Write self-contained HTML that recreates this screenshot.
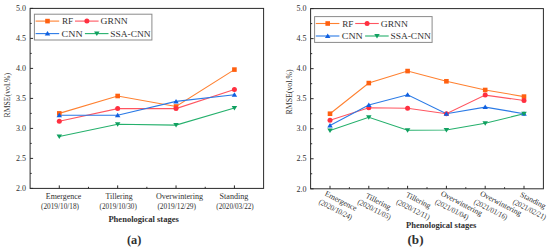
<!DOCTYPE html>
<html><head><meta charset="utf-8"><style>
html,body{margin:0;padding:0;background:#fff;}
body{width:550px;height:251px;overflow:hidden;}
svg{display:block;font-family:"Liberation Serif", serif;}
text{fill:#303030;}
</style></head><body>
<svg width="550" height="251" viewBox="0 0 550 251">
<rect width="550" height="251" fill="#fff"/>
<polyline points="59.29,113.40 117.66,96.00 176.04,106.50 234.41,69.60" fill="none" stroke="#ff8030" stroke-width="1.1"/>
<polyline points="59.29,121.20 117.66,108.60 176.04,108.60 234.41,89.40" fill="none" stroke="#ff5560" stroke-width="1.1"/>
<polyline points="59.29,115.20 117.66,115.20 176.04,101.40 234.41,94.80" fill="none" stroke="#2a7ae6" stroke-width="1.1"/>
<polyline points="59.29,136.50 117.66,124.32 176.04,125.10 234.41,108.00" fill="none" stroke="#25b06c" stroke-width="1.1"/>
<rect x="56.99" y="111.10" width="4.6" height="4.6" fill="#ff6010"/>
<rect x="115.36" y="93.70" width="4.6" height="4.6" fill="#ff6010"/>
<rect x="173.74" y="104.20" width="4.6" height="4.6" fill="#ff6010"/>
<rect x="232.11" y="67.30" width="4.6" height="4.6" fill="#ff6010"/>
<circle cx="59.29" cy="121.20" r="2.5" fill="#ff3040"/>
<circle cx="117.66" cy="108.60" r="2.5" fill="#ff3040"/>
<circle cx="176.04" cy="108.60" r="2.5" fill="#ff3040"/>
<circle cx="234.41" cy="89.40" r="2.5" fill="#ff3040"/>
<path d="M59.29 112.70 L62.04 117.20 L56.54 117.20 Z" fill="#1060e0"/>
<path d="M117.66 112.70 L120.41 117.20 L114.91 117.20 Z" fill="#1060e0"/>
<path d="M176.04 98.90 L178.79 103.40 L173.29 103.40 Z" fill="#1060e0"/>
<path d="M234.41 92.30 L237.16 96.80 L231.66 96.80 Z" fill="#1060e0"/>
<path d="M56.54 134.50 L62.04 134.50 L59.29 139.00 Z" fill="#10a060"/>
<path d="M114.91 122.32 L120.41 122.32 L117.66 126.82 Z" fill="#10a060"/>
<path d="M173.29 123.10 L178.79 123.10 L176.04 127.60 Z" fill="#10a060"/>
<path d="M231.66 106.00 L237.16 106.00 L234.41 110.50 Z" fill="#10a060"/>
<rect x="30.10" y="8.40" width="233.50" height="180.00" fill="none" stroke="#2a2a2a" stroke-width="1"/>
<line x1="30.10" y1="188.40" x2="33.10" y2="188.40" stroke="#2a2a2a" stroke-width="1"/>
<text x="26.10" y="191.10" font-size="8" text-anchor="end">2.0</text>
<line x1="30.10" y1="173.40" x2="31.70" y2="173.40" stroke="#2a2a2a" stroke-width="1"/>
<line x1="30.10" y1="158.40" x2="33.10" y2="158.40" stroke="#2a2a2a" stroke-width="1"/>
<text x="26.10" y="161.10" font-size="8" text-anchor="end">2.5</text>
<line x1="30.10" y1="143.40" x2="31.70" y2="143.40" stroke="#2a2a2a" stroke-width="1"/>
<line x1="30.10" y1="128.40" x2="33.10" y2="128.40" stroke="#2a2a2a" stroke-width="1"/>
<text x="26.10" y="131.10" font-size="8" text-anchor="end">3.0</text>
<line x1="30.10" y1="113.40" x2="31.70" y2="113.40" stroke="#2a2a2a" stroke-width="1"/>
<line x1="30.10" y1="98.40" x2="33.10" y2="98.40" stroke="#2a2a2a" stroke-width="1"/>
<text x="26.10" y="101.10" font-size="8" text-anchor="end">3.5</text>
<line x1="30.10" y1="83.40" x2="31.70" y2="83.40" stroke="#2a2a2a" stroke-width="1"/>
<line x1="30.10" y1="68.40" x2="33.10" y2="68.40" stroke="#2a2a2a" stroke-width="1"/>
<text x="26.10" y="71.10" font-size="8" text-anchor="end">4.0</text>
<line x1="30.10" y1="53.40" x2="31.70" y2="53.40" stroke="#2a2a2a" stroke-width="1"/>
<line x1="30.10" y1="38.40" x2="33.10" y2="38.40" stroke="#2a2a2a" stroke-width="1"/>
<text x="26.10" y="41.10" font-size="8" text-anchor="end">4.5</text>
<line x1="30.10" y1="23.40" x2="31.70" y2="23.40" stroke="#2a2a2a" stroke-width="1"/>
<line x1="30.10" y1="8.40" x2="33.10" y2="8.40" stroke="#2a2a2a" stroke-width="1"/>
<text x="26.10" y="11.10" font-size="8" text-anchor="end">5.0</text>
<line x1="59.29" y1="188.40" x2="59.29" y2="185.40" stroke="#2a2a2a" stroke-width="1"/>
<line x1="88.48" y1="188.40" x2="88.48" y2="186.80" stroke="#2a2a2a" stroke-width="1"/>
<line x1="117.66" y1="188.40" x2="117.66" y2="185.40" stroke="#2a2a2a" stroke-width="1"/>
<line x1="146.85" y1="188.40" x2="146.85" y2="186.80" stroke="#2a2a2a" stroke-width="1"/>
<line x1="176.04" y1="188.40" x2="176.04" y2="185.40" stroke="#2a2a2a" stroke-width="1"/>
<line x1="205.23" y1="188.40" x2="205.23" y2="186.80" stroke="#2a2a2a" stroke-width="1"/>
<line x1="234.41" y1="188.40" x2="234.41" y2="185.40" stroke="#2a2a2a" stroke-width="1"/>
<rect x="34.40" y="14.20" width="117.50" height="25.80" fill="#fff" stroke="#8a8a8a" stroke-width="1"/>
<line x1="35.60" y1="21.10" x2="59.20" y2="21.10" stroke="#ff8030" stroke-width="1.1"/>
<rect x="45.20" y="18.80" width="4.6" height="4.6" fill="#ff6010"/>
<line x1="75.00" y1="21.10" x2="98.60" y2="21.10" stroke="#ff5560" stroke-width="1.1"/>
<circle cx="86.90" cy="21.10" r="2.5" fill="#ff3040"/>
<line x1="35.60" y1="33.60" x2="59.20" y2="33.60" stroke="#2a7ae6" stroke-width="1.1"/>
<path d="M47.50 31.10 L50.25 35.60 L44.75 35.60 Z" fill="#1060e0"/>
<line x1="84.90" y1="33.60" x2="108.50" y2="33.60" stroke="#25b06c" stroke-width="1.1"/>
<path d="M94.05 31.60 L99.55 31.60 L96.80 36.10 Z" fill="#10a060"/>
<text x="62.00" y="24.20" font-size="9.0" text-anchor="start" textLength="11.20" lengthAdjust="spacingAndGlyphs">RF</text>
<text x="100.60" y="24.20" font-size="9.0" text-anchor="start" textLength="27.20" lengthAdjust="spacingAndGlyphs">GRNN</text>
<text x="61.60" y="36.60" font-size="9.0" text-anchor="start" textLength="21.00" lengthAdjust="spacingAndGlyphs">CNN</text>
<text x="110.20" y="36.60" font-size="9.0" text-anchor="start" textLength="40.40" lengthAdjust="spacingAndGlyphs">SSA-CNN</text>
<polyline points="330.00,113.72 368.80,83.08 407.60,71.07 446.40,81.28 485.20,89.99 524.00,96.60" fill="none" stroke="#ff8030" stroke-width="1.1"/>
<polyline points="330.00,120.32 368.80,107.71 407.60,108.31 446.40,113.72 485.20,95.10 524.00,100.50" fill="none" stroke="#ff5560" stroke-width="1.1"/>
<polyline points="330.00,125.43 368.80,105.01 407.60,94.80 446.40,113.72 485.20,107.11 524.00,113.72" fill="none" stroke="#2a7ae6" stroke-width="1.1"/>
<polyline points="330.00,130.54 368.80,117.32 407.60,130.24 446.40,129.93 485.20,123.33 524.00,113.72" fill="none" stroke="#25b06c" stroke-width="1.1"/>
<rect x="327.70" y="111.42" width="4.6" height="4.6" fill="#ff6010"/>
<rect x="366.50" y="80.78" width="4.6" height="4.6" fill="#ff6010"/>
<rect x="405.30" y="68.77" width="4.6" height="4.6" fill="#ff6010"/>
<rect x="444.10" y="78.98" width="4.6" height="4.6" fill="#ff6010"/>
<rect x="482.90" y="87.69" width="4.6" height="4.6" fill="#ff6010"/>
<rect x="521.70" y="94.30" width="4.6" height="4.6" fill="#ff6010"/>
<circle cx="330.00" cy="120.32" r="2.5" fill="#ff3040"/>
<circle cx="368.80" cy="107.71" r="2.5" fill="#ff3040"/>
<circle cx="407.60" cy="108.31" r="2.5" fill="#ff3040"/>
<circle cx="446.40" cy="113.72" r="2.5" fill="#ff3040"/>
<circle cx="485.20" cy="95.10" r="2.5" fill="#ff3040"/>
<circle cx="524.00" cy="100.50" r="2.5" fill="#ff3040"/>
<path d="M330.00 122.93 L332.75 127.43 L327.25 127.43 Z" fill="#1060e0"/>
<path d="M368.80 102.51 L371.55 107.01 L366.05 107.01 Z" fill="#1060e0"/>
<path d="M407.60 92.30 L410.35 96.80 L404.85 96.80 Z" fill="#1060e0"/>
<path d="M446.40 111.22 L449.15 115.72 L443.65 115.72 Z" fill="#1060e0"/>
<path d="M485.20 104.61 L487.95 109.11 L482.45 109.11 Z" fill="#1060e0"/>
<path d="M524.00 111.22 L526.75 115.72 L521.25 115.72 Z" fill="#1060e0"/>
<path d="M327.25 128.54 L332.75 128.54 L330.00 133.04 Z" fill="#10a060"/>
<path d="M366.05 115.32 L371.55 115.32 L368.80 119.82 Z" fill="#10a060"/>
<path d="M404.85 128.24 L410.35 128.24 L407.60 132.74 Z" fill="#10a060"/>
<path d="M443.65 127.93 L449.15 127.93 L446.40 132.43 Z" fill="#10a060"/>
<path d="M482.45 121.33 L487.95 121.33 L485.20 125.83 Z" fill="#10a060"/>
<path d="M521.25 111.72 L526.75 111.72 L524.00 116.22 Z" fill="#10a060"/>
<rect x="310.60" y="8.60" width="232.80" height="180.20" fill="none" stroke="#2a2a2a" stroke-width="1"/>
<line x1="310.60" y1="188.80" x2="313.60" y2="188.80" stroke="#2a2a2a" stroke-width="1"/>
<text x="306.60" y="191.50" font-size="8" text-anchor="end">2.0</text>
<line x1="310.60" y1="173.78" x2="312.20" y2="173.78" stroke="#2a2a2a" stroke-width="1"/>
<line x1="310.60" y1="158.77" x2="313.60" y2="158.77" stroke="#2a2a2a" stroke-width="1"/>
<text x="306.60" y="161.47" font-size="8" text-anchor="end">2.5</text>
<line x1="310.60" y1="143.75" x2="312.20" y2="143.75" stroke="#2a2a2a" stroke-width="1"/>
<line x1="310.60" y1="128.73" x2="313.60" y2="128.73" stroke="#2a2a2a" stroke-width="1"/>
<text x="306.60" y="131.43" font-size="8" text-anchor="end">3.0</text>
<line x1="310.60" y1="113.72" x2="312.20" y2="113.72" stroke="#2a2a2a" stroke-width="1"/>
<line x1="310.60" y1="98.70" x2="313.60" y2="98.70" stroke="#2a2a2a" stroke-width="1"/>
<text x="306.60" y="101.40" font-size="8" text-anchor="end">3.5</text>
<line x1="310.60" y1="83.68" x2="312.20" y2="83.68" stroke="#2a2a2a" stroke-width="1"/>
<line x1="310.60" y1="68.67" x2="313.60" y2="68.67" stroke="#2a2a2a" stroke-width="1"/>
<text x="306.60" y="71.37" font-size="8" text-anchor="end">4.0</text>
<line x1="310.60" y1="53.65" x2="312.20" y2="53.65" stroke="#2a2a2a" stroke-width="1"/>
<line x1="310.60" y1="38.63" x2="313.60" y2="38.63" stroke="#2a2a2a" stroke-width="1"/>
<text x="306.60" y="41.33" font-size="8" text-anchor="end">4.5</text>
<line x1="310.60" y1="23.62" x2="312.20" y2="23.62" stroke="#2a2a2a" stroke-width="1"/>
<line x1="310.60" y1="8.60" x2="313.60" y2="8.60" stroke="#2a2a2a" stroke-width="1"/>
<text x="306.60" y="11.30" font-size="8" text-anchor="end">5.0</text>
<line x1="330.00" y1="188.80" x2="330.00" y2="185.80" stroke="#2a2a2a" stroke-width="1"/>
<line x1="349.40" y1="188.80" x2="349.40" y2="187.20" stroke="#2a2a2a" stroke-width="1"/>
<line x1="368.80" y1="188.80" x2="368.80" y2="185.80" stroke="#2a2a2a" stroke-width="1"/>
<line x1="388.20" y1="188.80" x2="388.20" y2="187.20" stroke="#2a2a2a" stroke-width="1"/>
<line x1="407.60" y1="188.80" x2="407.60" y2="185.80" stroke="#2a2a2a" stroke-width="1"/>
<line x1="427.00" y1="188.80" x2="427.00" y2="187.20" stroke="#2a2a2a" stroke-width="1"/>
<line x1="446.40" y1="188.80" x2="446.40" y2="185.80" stroke="#2a2a2a" stroke-width="1"/>
<line x1="465.80" y1="188.80" x2="465.80" y2="187.20" stroke="#2a2a2a" stroke-width="1"/>
<line x1="485.20" y1="188.80" x2="485.20" y2="185.80" stroke="#2a2a2a" stroke-width="1"/>
<line x1="504.60" y1="188.80" x2="504.60" y2="187.20" stroke="#2a2a2a" stroke-width="1"/>
<line x1="524.00" y1="188.80" x2="524.00" y2="185.80" stroke="#2a2a2a" stroke-width="1"/>
<rect x="314.60" y="16.60" width="117.50" height="25.80" fill="#fff" stroke="#8a8a8a" stroke-width="1"/>
<line x1="315.80" y1="23.50" x2="339.40" y2="23.50" stroke="#ff8030" stroke-width="1.1"/>
<rect x="325.40" y="21.20" width="4.6" height="4.6" fill="#ff6010"/>
<line x1="355.20" y1="23.50" x2="378.80" y2="23.50" stroke="#ff5560" stroke-width="1.1"/>
<circle cx="367.10" cy="23.50" r="2.5" fill="#ff3040"/>
<line x1="315.80" y1="36.00" x2="339.40" y2="36.00" stroke="#2a7ae6" stroke-width="1.1"/>
<path d="M327.70 33.50 L330.45 38.00 L324.95 38.00 Z" fill="#1060e0"/>
<line x1="365.10" y1="36.00" x2="388.70" y2="36.00" stroke="#25b06c" stroke-width="1.1"/>
<path d="M374.25 34.00 L379.75 34.00 L377.00 38.50 Z" fill="#10a060"/>
<text x="342.20" y="26.60" font-size="9.0" text-anchor="start" textLength="11.20" lengthAdjust="spacingAndGlyphs">RF</text>
<text x="380.80" y="26.60" font-size="9.0" text-anchor="start" textLength="27.20" lengthAdjust="spacingAndGlyphs">GRNN</text>
<text x="341.80" y="39.00" font-size="9.0" text-anchor="start" textLength="21.00" lengthAdjust="spacingAndGlyphs">CNN</text>
<text x="390.40" y="39.00" font-size="9.0" text-anchor="start" textLength="40.40" lengthAdjust="spacingAndGlyphs">SSA-CNN</text>
<text x="63.60" y="198.60" font-size="7.6" text-anchor="middle" textLength="35.50" lengthAdjust="spacingAndGlyphs">Emergence</text>
<text x="60.00" y="208.50" font-size="7.4" text-anchor="middle" textLength="38.00" lengthAdjust="spacingAndGlyphs">(2019/10/18)</text>
<text x="119.10" y="198.60" font-size="7.6" text-anchor="middle" textLength="27.00" lengthAdjust="spacingAndGlyphs">Tillering</text>
<text x="118.20" y="208.50" font-size="7.4" text-anchor="middle" textLength="37.20" lengthAdjust="spacingAndGlyphs">(2019/10/30)</text>
<text x="179.50" y="198.60" font-size="7.6" text-anchor="middle" textLength="47.20" lengthAdjust="spacingAndGlyphs">Overwintering</text>
<text x="176.70" y="208.50" font-size="7.4" text-anchor="middle" textLength="38.60" lengthAdjust="spacingAndGlyphs">(2019/12/29)</text>
<text x="234.00" y="198.60" font-size="7.6" text-anchor="middle" textLength="28.80" lengthAdjust="spacingAndGlyphs">Standing</text>
<text x="235.00" y="208.50" font-size="7.4" text-anchor="middle" textLength="37.40" lengthAdjust="spacingAndGlyphs">(2020/03/22)</text>
<text transform="translate(10.3,95.25) rotate(-90)" text-anchor="middle" font-size="8" textLength="44.6" lengthAdjust="spacingAndGlyphs">RMSE(vol.%)</text>
<text transform="translate(292.2,92.0) rotate(-90)" text-anchor="middle" font-size="8" textLength="45.2" lengthAdjust="spacingAndGlyphs">RMSE(vol.%)</text>
<text transform="translate(324.24,195.28) rotate(27)" font-size="7.8">Emergence</text>
<text transform="translate(318.14,203.45) rotate(27)" font-size="7.8" textLength="36.5" lengthAdjust="spacingAndGlyphs">(2020/10/24)</text>
<text transform="translate(365.04,197.48) rotate(27)" font-size="7.8">Tillering</text>
<text transform="translate(356.94,203.45) rotate(27)" font-size="7.8" textLength="36.5" lengthAdjust="spacingAndGlyphs">(2020/11/05)</text>
<text transform="translate(405.24,196.38) rotate(27)" font-size="7.8">Tillering</text>
<text transform="translate(395.74,203.45) rotate(27)" font-size="7.8" textLength="36.5" lengthAdjust="spacingAndGlyphs">(2020/12/11)</text>
<text transform="translate(440.24,195.28) rotate(27)" font-size="7.8">Overwintering</text>
<text transform="translate(434.54,203.45) rotate(27)" font-size="7.8" textLength="36.5" lengthAdjust="spacingAndGlyphs">(2021/01/04)</text>
<text transform="translate(479.44,195.28) rotate(27)" font-size="7.8">Overwintering</text>
<text transform="translate(473.34,203.45) rotate(27)" font-size="7.8" textLength="36.5" lengthAdjust="spacingAndGlyphs">(2021/01/16)</text>
<text transform="translate(519.54,196.18) rotate(27)" font-size="7.8">Standing</text>
<text transform="translate(512.14,203.45) rotate(27)" font-size="7.8" textLength="36.5" lengthAdjust="spacingAndGlyphs">(2021/02/21)</text>
<text x="143.60" y="221.80" font-size="8.2" text-anchor="middle" font-weight="bold" textLength="70.40" lengthAdjust="spacingAndGlyphs">Phenological stages</text>
<text x="441.20" y="228.20" font-size="8.2" text-anchor="middle" font-weight="bold" textLength="70.40" lengthAdjust="spacingAndGlyphs">Phenological stages</text>
<text x="134.20" y="243.60" font-size="12.5" text-anchor="middle" font-weight="bold" textLength="14.40" lengthAdjust="spacingAndGlyphs">(a)</text>
<text x="415.50" y="243.60" font-size="12.5" text-anchor="middle" font-weight="bold" textLength="16.00" lengthAdjust="spacingAndGlyphs">(b)</text>
</svg>
</body></html>
